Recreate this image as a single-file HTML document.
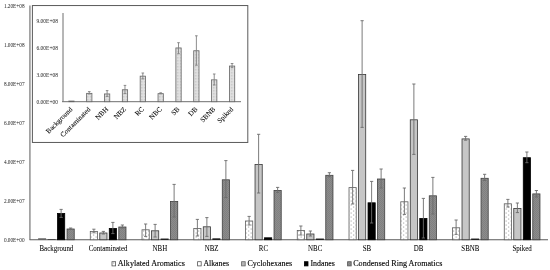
<!DOCTYPE html>
<html><head><meta charset="utf-8"><title>Chart</title>
<style>
html,body{margin:0;padding:0;background:#fff;}
body{width:550px;height:270px;overflow:hidden;font-family:"Liberation Serif",serif;}
svg{display:block}
text{font-family:"Liberation Serif",serif;fill:#000;stroke:#000;stroke-width:0.12px}
text.n{stroke:none;fill:#1a1a1a}
text.x{stroke-width:0.05px}
</style></head><body>
<svg width="550" height="270" viewBox="0 0 550 270">
<defs>
<pattern id="dots" width="5" height="4" patternUnits="userSpaceOnUse"><rect width="5" height="4" fill="#fff"/><rect x="0.6" y="0.5" width="1.1" height="1.1" fill="#a8a8a8"/><rect x="3.1" y="2.5" width="1.1" height="1.1" fill="#a8a8a8"/></pattern>
<pattern id="dense" width="2" height="2" patternUnits="userSpaceOnUse"><rect width="2" height="2" fill="#8c8c8c"/><rect width="1" height="1" fill="#808080"/><rect x="1" y="1" width="1" height="1" fill="#808080"/></pattern>
<pattern id="fine" width="1.5" height="1.5" patternUnits="userSpaceOnUse"><rect width="1.5" height="1.5" fill="#e2e2e2"/><rect width="0.75" height="0.75" fill="#c2c2c2"/></pattern>
</defs>
<rect width="550" height="270" fill="#fff"/>

<line x1="29.95" y1="5.5" x2="29.95" y2="239.75" stroke="#5a5a5a" stroke-width="1"/>
<line x1="29.5" y1="239.75" x2="548" y2="239.75" stroke="#5a5a5a" stroke-width="1"/>
<text class="n" x="3.9" y="242.20" font-size="6" textLength="20.7" lengthAdjust="spacingAndGlyphs">0.00E+00</text>
<text class="n" x="3.9" y="203.20" font-size="6" textLength="20.7" lengthAdjust="spacingAndGlyphs">2.00E+07</text>
<text class="n" x="3.9" y="164.20" font-size="6" textLength="20.7" lengthAdjust="spacingAndGlyphs">4.00E+07</text>
<text class="n" x="3.9" y="125.20" font-size="6" textLength="20.7" lengthAdjust="spacingAndGlyphs">6.00E+07</text>
<text class="n" x="3.9" y="86.20" font-size="6" textLength="20.7" lengthAdjust="spacingAndGlyphs">8.00E+07</text>
<text class="n" x="3.9" y="47.20" font-size="6" textLength="20.7" lengthAdjust="spacingAndGlyphs">1.00E+08</text>
<text class="n" x="3.9" y="8.20" font-size="6" textLength="20.7" lengthAdjust="spacingAndGlyphs">1.20E+08</text>
<rect x="38.12" y="238.30" width="8.00" height="1.45" fill="#5c5c5c"/>
<rect x="47.62" y="239.00" width="8.00" height="0.75" fill="#363636"/>
<rect x="57.52" y="213.40" width="7.20" height="26.35" fill="#000" stroke="#000" stroke-width="0.8"/>
<path d="M61.12 209.40V217.40M59.52 209.40H62.73M59.52 217.40H62.73" stroke="#6c6c6c" stroke-width="0.9" fill="none"/>
<rect x="67.03" y="229.00" width="7.20" height="10.75" fill="url(#dense)" stroke="#404040" stroke-width="0.8"/>
<path d="M70.62 228.00V229.20M69.03 228.00H72.22M69.03 229.20H72.22" stroke="#6c6c6c" stroke-width="0.9" fill="none"/>
<text class="x" transform="translate(56.38 250.6) scale(0.915 1)" font-size="7.6" text-anchor="middle">Background</text>
<rect x="90.28" y="231.40" width="7.20" height="8.35" fill="url(#dots)" stroke="#5c5c5c" stroke-width="0.8"/>
<path d="M93.88 229.20V232.80M92.28 229.20H95.47M92.28 232.80H95.47" stroke="#6c6c6c" stroke-width="0.9" fill="none"/>
<rect x="99.78" y="233.00" width="7.20" height="6.75" fill="#c6c6c6" stroke="#363636" stroke-width="0.8"/>
<path d="M103.38 231.40V234.00M101.78 231.40H104.97M101.78 234.00H104.97" stroke="#6c6c6c" stroke-width="0.9" fill="none"/>
<rect x="109.28" y="228.40" width="7.20" height="11.35" fill="#000" stroke="#000" stroke-width="0.8"/>
<path d="M112.88 222.40V233.60M111.28 222.40H114.47M111.28 233.60H114.47" stroke="#6c6c6c" stroke-width="0.9" fill="none"/>
<rect x="118.78" y="227.00" width="7.20" height="12.75" fill="url(#dense)" stroke="#404040" stroke-width="0.8"/>
<path d="M122.38 225.00V228.00M120.78 225.00H123.97M120.78 228.00H123.97" stroke="#6c6c6c" stroke-width="0.9" fill="none"/>
<text class="x" transform="translate(108.12 250.6) scale(0.915 1)" font-size="7.6" text-anchor="middle">Contaminated</text>
<rect x="142.03" y="229.80" width="7.20" height="9.95" fill="url(#dots)" stroke="#5c5c5c" stroke-width="0.8"/>
<path d="M145.62 224.00V236.40M144.03 224.00H147.22M144.03 236.40H147.22" stroke="#6c6c6c" stroke-width="0.9" fill="none"/>
<rect x="151.53" y="230.80" width="7.20" height="8.95" fill="#c6c6c6" stroke="#363636" stroke-width="0.8"/>
<path d="M155.12 224.40V237.00M153.53 224.40H156.72M153.53 237.00H156.72" stroke="#6c6c6c" stroke-width="0.9" fill="none"/>
<rect x="160.62" y="238.60" width="8.00" height="1.15" fill="#000"/>
<rect x="170.53" y="201.40" width="7.20" height="38.35" fill="url(#dense)" stroke="#404040" stroke-width="0.8"/>
<path d="M174.12 184.40V217.00M172.53 184.40H175.72M172.53 217.00H175.72" stroke="#6c6c6c" stroke-width="0.9" fill="none"/>
<text class="x" transform="translate(159.88 250.6) scale(0.915 1)" font-size="7.6" text-anchor="middle">NBH</text>
<rect x="193.78" y="228.40" width="7.20" height="11.35" fill="url(#dots)" stroke="#5c5c5c" stroke-width="0.8"/>
<path d="M197.38 219.40V236.00M195.78 219.40H198.97M195.78 236.00H198.97" stroke="#6c6c6c" stroke-width="0.9" fill="none"/>
<rect x="203.28" y="226.80" width="7.20" height="12.95" fill="#c6c6c6" stroke="#363636" stroke-width="0.8"/>
<path d="M206.88 217.60V236.40M205.28 217.60H208.47M205.28 236.40H208.47" stroke="#6c6c6c" stroke-width="0.9" fill="none"/>
<rect x="212.38" y="238.40" width="8.00" height="1.35" fill="#000"/>
<rect x="222.28" y="179.80" width="7.20" height="59.95" fill="url(#dense)" stroke="#404040" stroke-width="0.8"/>
<path d="M225.88 160.60V197.60M224.28 160.60H227.47M224.28 197.60H227.47" stroke="#6c6c6c" stroke-width="0.9" fill="none"/>
<text class="x" transform="translate(211.62 250.6) scale(0.915 1)" font-size="7.6" text-anchor="middle">NBZ</text>
<rect x="245.53" y="221.00" width="7.20" height="18.75" fill="url(#dots)" stroke="#5c5c5c" stroke-width="0.8"/>
<path d="M249.12 216.40V225.00M247.53 216.40H250.72M247.53 225.00H250.72" stroke="#6c6c6c" stroke-width="0.9" fill="none"/>
<rect x="255.03" y="164.40" width="7.20" height="75.35" fill="#c6c6c6" stroke="#363636" stroke-width="0.8"/>
<path d="M258.62 134.30V193.00M257.02 134.30H260.23M257.02 193.00H260.23" stroke="#6c6c6c" stroke-width="0.9" fill="none"/>
<rect x="264.52" y="237.80" width="7.20" height="1.95" fill="#000" stroke="#000" stroke-width="0.8"/>
<rect x="274.02" y="190.40" width="7.20" height="49.35" fill="url(#dense)" stroke="#404040" stroke-width="0.8"/>
<path d="M277.62 187.40V192.40M276.02 187.40H279.23M276.02 192.40H279.23" stroke="#6c6c6c" stroke-width="0.9" fill="none"/>
<text class="x" transform="translate(263.38 250.6) scale(0.915 1)" font-size="7.6" text-anchor="middle">RC</text>
<rect x="297.27" y="230.40" width="7.20" height="9.35" fill="url(#dots)" stroke="#5c5c5c" stroke-width="0.8"/>
<path d="M300.88 226.00V235.00M299.27 226.00H302.48M299.27 235.00H302.48" stroke="#6c6c6c" stroke-width="0.9" fill="none"/>
<rect x="306.77" y="234.00" width="7.20" height="5.75" fill="#c6c6c6" stroke="#363636" stroke-width="0.8"/>
<path d="M310.38 231.00V236.00M308.77 231.00H311.98M308.77 236.00H311.98" stroke="#6c6c6c" stroke-width="0.9" fill="none"/>
<rect x="315.88" y="238.60" width="8.00" height="1.15" fill="#000"/>
<rect x="325.77" y="175.30" width="7.20" height="64.45" fill="url(#dense)" stroke="#404040" stroke-width="0.8"/>
<path d="M329.38 172.70V176.80M327.77 172.70H330.98M327.77 176.80H330.98" stroke="#6c6c6c" stroke-width="0.9" fill="none"/>
<text class="x" transform="translate(315.12 250.6) scale(0.915 1)" font-size="7.6" text-anchor="middle">NBC</text>
<rect x="349.02" y="187.60" width="7.20" height="52.15" fill="url(#dots)" stroke="#5c5c5c" stroke-width="0.8"/>
<path d="M352.62 170.40V204.00M351.02 170.40H354.23M351.02 204.00H354.23" stroke="#6c6c6c" stroke-width="0.9" fill="none"/>
<rect x="358.52" y="74.40" width="7.20" height="165.35" fill="#c6c6c6" stroke="#363636" stroke-width="0.8"/>
<path d="M362.12 20.70V127.40M360.52 20.70H363.73M360.52 127.40H363.73" stroke="#6c6c6c" stroke-width="0.9" fill="none"/>
<rect x="368.02" y="202.80" width="7.20" height="36.95" fill="#000" stroke="#000" stroke-width="0.8"/>
<path d="M371.62 181.40V223.00M370.02 181.40H373.23M370.02 223.00H373.23" stroke="#6c6c6c" stroke-width="0.9" fill="none"/>
<rect x="377.52" y="179.00" width="7.20" height="60.75" fill="url(#dense)" stroke="#404040" stroke-width="0.8"/>
<path d="M381.12 169.00V188.00M379.52 169.00H382.73M379.52 188.00H382.73" stroke="#6c6c6c" stroke-width="0.9" fill="none"/>
<text class="x" transform="translate(366.88 250.6) scale(0.915 1)" font-size="7.6" text-anchor="middle">SB</text>
<rect x="400.77" y="201.80" width="7.20" height="37.95" fill="url(#dots)" stroke="#5c5c5c" stroke-width="0.8"/>
<path d="M404.38 188.00V214.40M402.77 188.00H405.98M402.77 214.40H405.98" stroke="#6c6c6c" stroke-width="0.9" fill="none"/>
<rect x="410.27" y="119.80" width="7.20" height="119.95" fill="#c6c6c6" stroke="#363636" stroke-width="0.8"/>
<path d="M413.88 84.00V154.40M412.27 84.00H415.48M412.27 154.40H415.48" stroke="#6c6c6c" stroke-width="0.9" fill="none"/>
<rect x="419.77" y="218.40" width="7.20" height="21.35" fill="#000" stroke="#000" stroke-width="0.8"/>
<path d="M423.38 198.40V238.00M421.77 198.40H424.98M421.77 238.00H424.98" stroke="#6c6c6c" stroke-width="0.9" fill="none"/>
<rect x="429.27" y="195.80" width="7.20" height="43.95" fill="url(#dense)" stroke="#404040" stroke-width="0.8"/>
<path d="M432.88 177.40V214.00M431.27 177.40H434.48M431.27 214.00H434.48" stroke="#6c6c6c" stroke-width="0.9" fill="none"/>
<text class="x" transform="translate(418.62 250.6) scale(0.915 1)" font-size="7.6" text-anchor="middle">DB</text>
<rect x="452.52" y="227.80" width="7.20" height="11.95" fill="url(#dots)" stroke="#5c5c5c" stroke-width="0.8"/>
<path d="M456.12 220.00V234.40M454.52 220.00H457.73M454.52 234.40H457.73" stroke="#6c6c6c" stroke-width="0.9" fill="none"/>
<rect x="462.02" y="138.90" width="7.20" height="100.85" fill="#c6c6c6" stroke="#363636" stroke-width="0.8"/>
<path d="M465.62 136.40V140.20M464.02 136.40H467.23M464.02 140.20H467.23" stroke="#6c6c6c" stroke-width="0.9" fill="none"/>
<rect x="471.12" y="238.60" width="8.00" height="1.15" fill="#000"/>
<rect x="481.02" y="178.30" width="7.20" height="61.45" fill="url(#dense)" stroke="#404040" stroke-width="0.8"/>
<path d="M484.62 174.30V180.50M483.02 174.30H486.23M483.02 180.50H486.23" stroke="#6c6c6c" stroke-width="0.9" fill="none"/>
<text class="x" transform="translate(470.38 250.6) scale(0.915 1)" font-size="7.6" text-anchor="middle">SBNB</text>
<rect x="504.27" y="203.80" width="7.20" height="35.95" fill="url(#dots)" stroke="#5c5c5c" stroke-width="0.8"/>
<path d="M507.88 199.40V207.00M506.27 199.40H509.48M506.27 207.00H509.48" stroke="#6c6c6c" stroke-width="0.9" fill="none"/>
<rect x="513.77" y="208.40" width="7.20" height="31.35" fill="#c6c6c6" stroke="#363636" stroke-width="0.8"/>
<path d="M517.38 203.00V212.60M515.77 203.00H518.98M515.77 212.60H518.98" stroke="#6c6c6c" stroke-width="0.9" fill="none"/>
<rect x="523.27" y="157.70" width="7.20" height="82.05" fill="#000" stroke="#000" stroke-width="0.8"/>
<path d="M526.88 152.00V162.70M525.27 152.00H528.48M525.27 162.70H528.48" stroke="#6c6c6c" stroke-width="0.9" fill="none"/>
<rect x="532.77" y="193.90" width="7.20" height="45.85" fill="url(#dense)" stroke="#404040" stroke-width="0.8"/>
<path d="M536.38 190.50V197.00M534.77 190.50H537.98M534.77 197.00H537.98" stroke="#6c6c6c" stroke-width="0.9" fill="none"/>
<text class="x" transform="translate(522.12 250.6) scale(0.915 1)" font-size="7.6" text-anchor="middle">Spiked</text>
<rect x="112.00" y="261.7" width="3.6" height="4.2" fill="url(#dots)" stroke="#555" stroke-width="0.8"/>
<text x="117.80" y="266.4" font-size="8.0" textLength="67.0" lengthAdjust="spacingAndGlyphs">Alkylated Aromatics</text>
<rect x="197.60" y="261.7" width="3.6" height="4.2" fill="#fff" stroke="#555" stroke-width="0.8"/>
<text x="203.40" y="266.4" font-size="8.0" textLength="25.6" lengthAdjust="spacingAndGlyphs">Alkanes</text>
<rect x="241.60" y="261.7" width="3.6" height="4.2" fill="#b4b4b4" stroke="#666" stroke-width="0.8"/>
<text x="247.40" y="266.4" font-size="8.0" textLength="44.8" lengthAdjust="spacingAndGlyphs">Cyclohexanes</text>
<rect x="304.40" y="261.7" width="3.6" height="4.2" fill="#000" stroke="#000" stroke-width="0.8"/>
<text x="310.40" y="266.4" font-size="8.0" textLength="24.5" lengthAdjust="spacingAndGlyphs">Indanes</text>
<rect x="347.60" y="261.7" width="3.6" height="4.2" fill="url(#dense)" stroke="#555" stroke-width="0.8"/>
<text x="353.20" y="266.4" font-size="8.0" textLength="89.2" lengthAdjust="spacingAndGlyphs">Condensed Ring Aromatics</text>
<rect x="32.4" y="5.55" width="215.4" height="136.9" fill="#fff" stroke="#5a5a5a" stroke-width="1"/>
<line x1="63" y1="13" x2="63" y2="101.7" stroke="#6e6e6e" stroke-width="1"/>
<line x1="62.0" y1="101.7" x2="241" y2="101.7" stroke="#6e6e6e" stroke-width="1"/>
<text class="n" x="36.5" y="103.9" font-size="5.8" textLength="21.5" lengthAdjust="spacingAndGlyphs">0.00E+00</text>
<text class="n" x="36.5" y="77.0" font-size="5.8" textLength="21.5" lengthAdjust="spacingAndGlyphs">3.00E+08</text>
<text class="n" x="36.5" y="50.2" font-size="5.8" textLength="21.5" lengthAdjust="spacingAndGlyphs">6.00E+08</text>
<text class="n" x="36.5" y="23.3" font-size="5.8" textLength="21.5" lengthAdjust="spacingAndGlyphs">9.00E+08</text>
<rect x="68.77" y="101.05" width="5.30" height="0.65" fill="url(#fine)" stroke="#646464" stroke-width="0.8"/>
<text transform="translate(73.02 109.70) rotate(-45)" font-size="7.0" style="stroke-width:0.06px" text-anchor="end">Background</text>
<rect x="86.62" y="93.35" width="5.30" height="8.35" fill="url(#fine)" stroke="#646464" stroke-width="0.8"/>
<path d="M89.28 91.60V94.00M87.98 91.60H90.58M87.98 94.00H90.58" stroke="#808080" stroke-width="0.9" fill="none"/>
<text transform="translate(90.88 109.70) rotate(-45)" font-size="7.0" style="stroke-width:0.06px" text-anchor="end">Contaminated</text>
<rect x="104.47" y="93.95" width="5.30" height="7.75" fill="url(#fine)" stroke="#646464" stroke-width="0.8"/>
<path d="M107.12 90.60V96.40M105.83 90.60H108.42M105.83 96.40H108.42" stroke="#808080" stroke-width="0.9" fill="none"/>
<text transform="translate(108.72 109.70) rotate(-45)" font-size="7.0" style="stroke-width:0.06px" text-anchor="end">NBH</text>
<rect x="122.33" y="89.75" width="5.30" height="11.95" fill="url(#fine)" stroke="#646464" stroke-width="0.8"/>
<path d="M124.98 85.40V93.60M123.68 85.40H126.28M123.68 93.60H126.28" stroke="#808080" stroke-width="0.9" fill="none"/>
<text transform="translate(126.58 109.70) rotate(-45)" font-size="7.0" style="stroke-width:0.06px" text-anchor="end">NBZ</text>
<rect x="140.17" y="76.15" width="5.30" height="25.55" fill="url(#fine)" stroke="#646464" stroke-width="0.8"/>
<path d="M142.82 73.00V78.90M141.52 73.00H144.12M141.52 78.90H144.12" stroke="#808080" stroke-width="0.9" fill="none"/>
<text transform="translate(144.42 109.70) rotate(-45)" font-size="7.0" style="stroke-width:0.06px" text-anchor="end">RC</text>
<rect x="158.03" y="93.65" width="5.30" height="8.05" fill="url(#fine)" stroke="#646464" stroke-width="0.8"/>
<path d="M160.68 92.80V93.80M159.38 92.80H161.98M159.38 93.80H161.98" stroke="#808080" stroke-width="0.9" fill="none"/>
<text transform="translate(162.28 109.70) rotate(-45)" font-size="7.0" style="stroke-width:0.06px" text-anchor="end">NBC</text>
<rect x="175.88" y="47.95" width="5.30" height="53.75" fill="url(#fine)" stroke="#646464" stroke-width="0.8"/>
<path d="M178.53 42.70V53.70M177.22 42.70H179.83M177.22 53.70H179.83" stroke="#808080" stroke-width="0.9" fill="none"/>
<text transform="translate(180.12 109.70) rotate(-45)" font-size="7.0" style="stroke-width:0.06px" text-anchor="end">SB</text>
<rect x="193.72" y="50.75" width="5.30" height="50.95" fill="url(#fine)" stroke="#646464" stroke-width="0.8"/>
<path d="M196.38 35.80V65.20M195.07 35.80H197.68M195.07 65.20H197.68" stroke="#808080" stroke-width="0.9" fill="none"/>
<text transform="translate(197.97 109.70) rotate(-45)" font-size="7.0" style="stroke-width:0.06px" text-anchor="end">DB</text>
<rect x="211.58" y="79.85" width="5.30" height="21.85" fill="url(#fine)" stroke="#646464" stroke-width="0.8"/>
<path d="M214.23 74.00V85.00M212.93 74.00H215.53M212.93 85.00H215.53" stroke="#808080" stroke-width="0.9" fill="none"/>
<text transform="translate(215.83 109.70) rotate(-45)" font-size="7.0" style="stroke-width:0.06px" text-anchor="end">SBNB</text>
<rect x="229.43" y="66.05" width="5.30" height="35.65" fill="url(#fine)" stroke="#646464" stroke-width="0.8"/>
<path d="M232.08 63.50V67.70M230.78 63.50H233.38M230.78 67.70H233.38" stroke="#808080" stroke-width="0.9" fill="none"/>
<text transform="translate(233.68 109.70) rotate(-45)" font-size="7.0" style="stroke-width:0.06px" text-anchor="end">Spiked</text>
</svg></body></html>
